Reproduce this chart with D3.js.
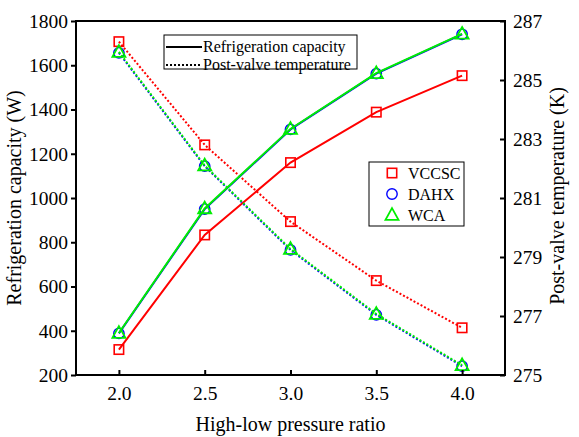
<!DOCTYPE html>
<html>
<head>
<meta charset="utf-8">
<script src="https://cdn.jsdelivr.net/npm/d3@7"></script>
<style>
  body { margin: 0; background: #fff; }
  svg text { font-family: "Liberation Serif", "Times New Roman", serif; fill: #000; }
</style>
</head>
<body>
<div id="chart"></div>
<script>
// Pressure ratio on x, two y axes (capacity left, temperature right)
const ratios = [2.0, 2.5, 3.0, 3.5, 4.0];

const capVCCSC = [315, 833, 1160, 1388, 1553];
const capDAHX = [388, 950, 1310, 1562, 1740];
const capWCA = [390, 953, 1312, 1564, 1742];

const tempVCCSC = [286.3, 282.8, 280.2, 278.2, 276.6];
const tempDAHX = [285.92, 282.08, 279.24, 277.04, 275.3];
const tempWCA = [285.95, 282.1, 279.27, 277.07, 275.33];

const xTicks = [2.0, 2.5, 3.0, 3.5, 4.0];
const leftTicks = [200, 400, 600, 800, 1000, 1200, 1400, 1600, 1800];
const rightTicks = [275, 277, 279, 281, 283, 285, 287];

const seriesNames = ['VCCSC', 'DAHX', 'WCA'];
const seriesColors = ['#ff0000', '#0000ff', '#00ee00'];

const width = 579, height = 437;
const margin = {top: 21, bottom: 62, left: 76, right: 74};
const serif = '"Liberation Serif", "Times New Roman", serif';

const svg = d3.select('#chart')
    .append('svg')
    .attr('width', width)
    .attr('height', height);

const x = d3.scaleLinear()
    .domain([1.75, 4.25])
    .range([margin.left, width - margin.right]);
const yL = d3.scaleLinear()
    .domain([200, 1800])
    .range([height - margin.bottom, margin.top]);
const yR = d3.scaleLinear()
    .domain([275, 287])
    .range([height - margin.bottom, margin.top]);

// series table built from the arrays above
const series = [
    {name: 'VCCSC', shape: 'square', color: seriesColors[0], cap: capVCCSC, temp: tempVCCSC},
    {name: 'DAHX', shape: 'circle', color: seriesColors[1], cap: capDAHX, temp: tempDAHX},
    {name: 'WCA', shape: 'triangle', color: seriesColors[2], cap: capWCA, temp: tempWCA}
];

function drawMarker(g, shape, cx, cy, color) {
    if (shape === 'square') {
        g.append('rect')
            .attr('x', cx - 4.7).attr('y', cy - 4.7)
            .attr('width', 9.4).attr('height', 9.4)
            .attr('fill', 'none').attr('stroke', color).attr('stroke-width', 1.6);
    } else if (shape === 'circle') {
        g.append('circle')
            .attr('cx', cx).attr('cy', cy).attr('r', 5.2)
            .attr('fill', 'none').attr('stroke', color).attr('stroke-width', 1.4);
    } else {
        const s = 6.5;
        g.append('path')
            .attr('d', `M${cx},${cy - s * 1.05}L${cx + s},${cy + s * 0.75}L${cx - s},${cy + s * 0.75}Z`)
            .attr('fill', 'none').attr('stroke', color).attr('stroke-width', 1.8);
    }
}

const plot = svg.append('g');

series.forEach(s => {
    const capLine = d3.line().x((d, i) => x(ratios[i])).y(d => yL(d));
    const tempLine = d3.line().x((d, i) => x(ratios[i])).y(d => yR(d));

    plot.append('path')
        .attr('d', capLine(s.cap))
        .attr('fill', 'none')
        .attr('stroke', s.color)
        .attr('stroke-width', 2);

    plot.append('path')
        .attr('d', tempLine(s.temp))
        .attr('fill', 'none')
        .attr('stroke', s.color)
        .attr('stroke-width', 2)
        .attr('stroke-dasharray', '2,2');

    s.cap.forEach((v, i) => drawMarker(plot, s.shape, x(ratios[i]), yL(v), s.color));
    s.temp.forEach((v, i) => drawMarker(plot, s.shape, x(ratios[i]), yR(v), s.color));
});

// frame
svg.append('rect')
    .attr('x', margin.left).attr('y', margin.top)
    .attr('width', width - margin.left - margin.right)
    .attr('height', height - margin.top - margin.bottom)
    .attr('fill', 'none').attr('stroke', '#000').attr('stroke-width', 2);

// axes
const axisX = svg.append('g')
    .attr('transform', `translate(0, ${height - margin.bottom})`)
    .call(d3.axisBottom(x).tickValues(xTicks).tickFormat(d3.format('.1f')).tickSizeInner(-5).tickSizeOuter(0).tickPadding(11));
const axisL = svg.append('g')
    .attr('transform', `translate(${margin.left}, 0)`)
    .call(d3.axisLeft(yL).tickValues(leftTicks).tickFormat(d3.format('d')).tickSizeInner(5).tickSizeOuter(0).tickPadding(3));
const axisR = svg.append('g')
    .attr('transform', `translate(${width - margin.right}, 0)`)
    .call(d3.axisRight(yR).tickValues(rightTicks).tickFormat(d3.format('d')).tickSizeInner(-5).tickSizeOuter(0).tickPadding(8));

[axisX, axisL, axisR].forEach(a => {
    a.attr('font-family', serif).attr('font-size', 19.5);
    a.select('.domain').remove();
    a.selectAll('line').attr('stroke-width', 2);
    a.selectAll('text').attr('fill', '#000');
});

// axis titles
svg.append('text')
    .attr('x', (margin.left + width - margin.right) / 2)
    .attr('y', 431)
    .attr('text-anchor', 'middle')
    .style('font-size', '20px')
    .text('High-low pressure ratio');

svg.append('text')
    .attr('transform', `translate(21, ${(margin.top + height - margin.bottom) / 2}) rotate(-90)`)
    .attr('text-anchor', 'middle')
    .style('font-size', '20px')
    .text('Refrigeration capacity (W)');

svg.append('text')
    .attr('transform', `translate(564, ${(margin.top + height - margin.bottom) / 2 - 2}) rotate(-90)`)
    .attr('text-anchor', 'middle')
    .style('font-size', '20px')
    .text('Post-valve temperature (K)');

// line style legend
const lg1 = svg.append('g');
lg1.append('rect')
    .attr('x', 164).attr('y', 35).attr('width', 193).attr('height', 34)
    .attr('fill', '#fff').attr('stroke', '#000').attr('stroke-width', 1);
[['Refrigeration capacity', null, 47], ['Post-valve temperature', '2,2', 65]].forEach(([label, dash, ly]) => {
    lg1.append('line')
        .attr('x1', 166).attr('x2', 202).attr('y1', ly).attr('y2', ly)
        .attr('stroke', '#000').attr('stroke-width', 2)
        .attr('stroke-dasharray', dash);
    lg1.append('text')
        .attr('x', 203).attr('y', ly + 5)
        .style('font-size', '16px')
        .text(label);
});

// marker legend
const lg2 = svg.append('g');
lg2.append('rect')
    .attr('x', 369).attr('y', 162).attr('width', 95).attr('height', 64)
    .attr('fill', '#fff').attr('stroke', '#000').attr('stroke-width', 1);
series.forEach((s, i) => {
    const ly = 173 + i * 21;
    drawMarker(lg2, s.shape, 392, ly, s.color);
    lg2.append('text')
        .attr('x', 408).attr('y', ly + 6)
        .style('font-size', '16px')
        .text(seriesNames[i]);
});
</script>
</body>
</html>
